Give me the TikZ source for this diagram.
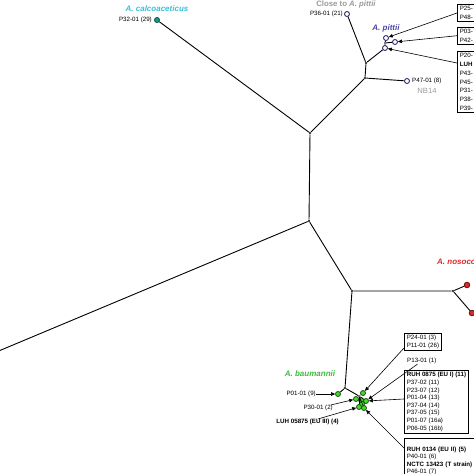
\documentclass[tikz,border=0pt]{standalone}
\usepackage{fontspec}
\setmainfont{Liberation Sans}
\usetikzlibrary{arrows.meta}
\definecolor{calco}{HTML}{3CBFD8}
\definecolor{calcofill}{HTML}{1A9A8A}
\definecolor{pitt}{HTML}{4B45A0}
\definecolor{noso}{HTML}{E02828}
\definecolor{bau}{HTML}{3DBB3D}
\definecolor{baufill}{HTML}{44DD22}
\definecolor{grayl}{HTML}{9A9A9A}
\begin{document}
\begin{tikzpicture}[x=1pt,y=-1pt,
  br/.style={line width=0.9pt,black},
  inner/.style={circle,fill=black,inner sep=0pt,minimum size=2.4pt},
  leafc/.style={circle,draw=calcofill!60!black,fill=calcofill,line width=0.9pt,inner sep=0pt,minimum size=5pt},
  leafp/.style={circle,draw=pitt!70!black,fill=white,line width=0.9pt,inner sep=0pt,minimum size=5pt},
  leafn/.style={circle,draw=noso!50!black,fill=noso,line width=0.9pt,inner sep=0pt,minimum size=5.5pt},
  leafb/.style={circle,draw=bau!40!black,fill=baufill,line width=0.8pt,inner sep=0pt,minimum size=5pt},
  lab/.style={font=\fontsize{6.2}{7.5}\selectfont,inner sep=0pt},
  boxl/.style={draw,line width=0.7pt,font=\fontsize{6.2}{7.6}\selectfont,align=left,inner xsep=2.5pt,inner ysep=2pt,anchor=north west},
  arr/.style={line width=0.6pt,-{Triangle[length=4pt,width=3.6pt]}},
  sp/.style={font=\fontsize{8}{9}\selectfont\bfseries\itshape,inner sep=0pt}
]
\useasboundingbox (0,0) rectangle (474,474);
% --- internal nodes
\node[inner] (N1) at (310,133) {};
\node[inner] (N2) at (365,78) {};
\node[inner] (N3) at (366,63) {};
\node[inner] (N4) at (309,221) {};
\node[inner] (N5) at (352,291) {};
\node[inner] (N6) at (453,291) {};
\node[inner] (N7) at (345,388) {};
\node[inner,minimum size=1.8pt] (N8) at (359,396) {};
\node[inner,minimum size=1.8pt] (Pd) at (385,43) {};
\coordinate (Far) at (-30,363);
% --- leaves
\node[leafc] (C) at (157,20) {};
\node[leafp] (P36) at (347,14) {};
\node[leafp] (Pa) at (386,38) {};
\node[leafp] (Pb) at (395,42) {};
\node[leafp] (Pc) at (385,48) {};
\node[leafp] (P47) at (407,81) {};
\node[leafn] (Na) at (467,285) {};
\node[leafn] (Nb) at (472,313) {};
\node[leafb] (B1) at (338,394) {};
\node[leafb] (B2) at (363,393) {};
\node[leafb] (B3) at (356,399) {};
\node[leafb] (B4) at (361,400) {};
\node[leafb] (B5) at (366,401) {};
\node[leafb] (B6) at (362,404) {};
\node[leafb] (B7) at (359,407) {};
\node[leafb] (B8) at (364,408) {};
% --- branches
\draw[br] (C) -- (N1) -- (N2) -- (N3) -- (P36);
\draw[br] (N3) -- (Pc) -- (Pd) -- (Pa);
\draw[br] (Pd) -- (Pb);
\draw[br] (N2) -- (P47);
\draw[br] (N1) -- (N4) -- (Far);
\draw[br] (N4) -- (N5) -- (N6) -- (Na);
\draw[br] (N6) -- (Nb);
\draw[br] (N5) -- (N7) -- (B1);
\draw[br] (N7) -- (N8);
\foreach \b in {B2,B3,B4,B5,B6,B7,B8} \draw[line width=0.5pt] (N8) -- (\b);
% --- species labels
\node[sp,text=calco] (Lcal) at (157,9) {A. calcoaceticus};
\node[sp,text=grayl,font=\fontsize{7.8}{9}\selectfont\bfseries] (Lclose) at (346,4) {Close to \textit{A. pittii}};
\node[sp,text=pitt] (Lpit) at (386,28) {A. pittii};
\node[sp,text=noso,anchor=west] (Lnos) at (437,262) {A. nosocomialis};
\node[sp,text=bau] (Lbau) at (310,374) {A. baumannii};
\node[text=grayl,font=\fontsize{7.6}{9}\selectfont,inner sep=0pt] (NB) at (427,91) {NB14};
% --- leaf labels
\node[lab,anchor=east] (tC) at (152,20) {P32-01 (29)};
\node[lab,anchor=east] (t36) at (343,14) {P36-01 (21)};
\node[lab,anchor=west] (t47) at (412,81) {P47-01 (8)};
\node[lab,anchor=east] (t01) at (316,394) {P01-01 (9)};
\node[lab,anchor=east] (t30) at (333,408) {P30-01 (2)};
\node[lab,anchor=east] (tLUH) at (339,422) {\bfseries LUH 05875 (EU III) (4)};
\node[lab,anchor=west] (t13) at (407,361) {P13-01 (1)};
% --- boxes
\node[boxl,text width=36pt,font=\fontsize{6.2}{8.4}\selectfont] (bx1) at (457,4) {P25-\\P48-};
\node[boxl,text width=36pt,font=\fontsize{6.2}{8.4}\selectfont] (bx2) at (457,27) {P03-\\P42-};
\node[boxl,text width=36pt,font=\fontsize{6.2}{8.8}\selectfont] (bx3) at (457,51) {P20-\\\textbf{LUH}\\P43-\\P45-\\P31-\\P38-\\P39-};
\node[boxl] (bx4) at (404,333) {P24-01 (3)\\P11-01 (26)};
\node[boxl] (bx5) at (404,370) {\textbf{RUH 0875 (EU I) (11)}\\P37-02 (11)\\P23-07 (12)\\P01-04 (13)\\P37-04 (14)\\P37-05 (15)\\P01-07 (16a)\\P06-05 (16b)};
\node[boxl,text width=75pt,minimum height=45pt] (bx6) at (404,438) {\textbf{RUH 0134 (EU II) (5)}\\P40-01 (6)\\\textbf{NCTC 13423 (T strain)}\\P46-01 (7)};
% --- arrows
\draw[arr] (bx1.west |- 0,13) -- (Pa);
\draw[arr] (bx2.west) -- (Pb);
\draw[arr] (bx3.west |- 0,63) -- (Pc);
\draw[arr] (t01) -- (B1);
\draw[arr] (t30) -- (B3);
\draw[arr] (tLUH) -- (B7);
\draw[arr] (bx4.west |- 0,348) -- (B2);
\draw[arr] (t13) -- (B5);
\draw[arr] (bx5.west |- 0,399) -- (B5);
\draw[arr] (bx6.west |- 0,448) -- (B8);
\end{tikzpicture}
\end{document}
